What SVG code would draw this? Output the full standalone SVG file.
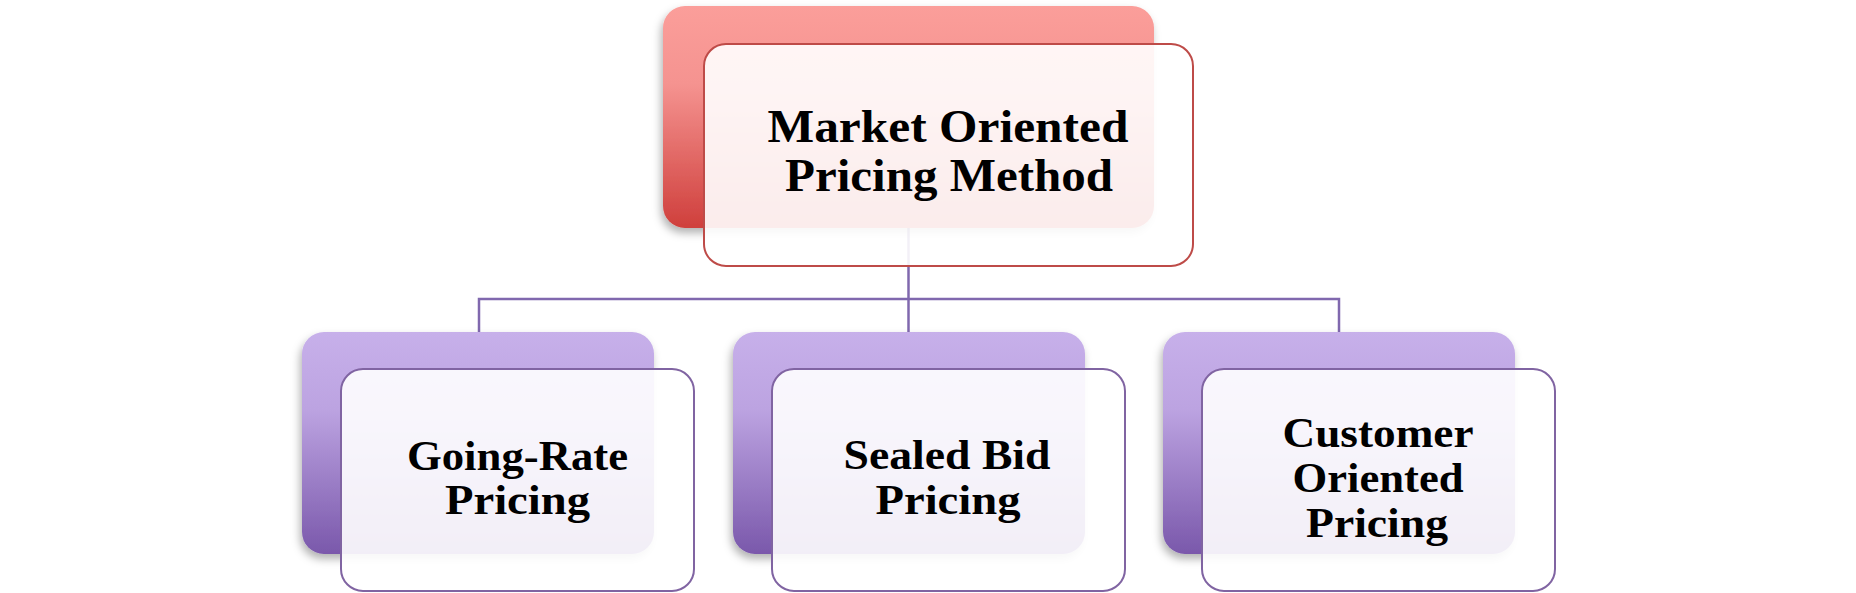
<svg xmlns="http://www.w3.org/2000/svg" width="1856" height="593" viewBox="0 0 1856 593">
<defs>
<linearGradient id="gRed" x1="0" y1="0" x2="0" y2="1">
<stop offset="0" stop-color="#FB9E9A"/>
<stop offset="0.35" stop-color="#F59390"/>
<stop offset="1" stop-color="#CF3F3C"/>
</linearGradient>
<linearGradient id="gPur" x1="0" y1="0" x2="0" y2="1">
<stop offset="0" stop-color="#C7B0EA"/>
<stop offset="0.35" stop-color="#BCA3E1"/>
<stop offset="1" stop-color="#7A58AB"/>
</linearGradient>
<filter id="sh" x="-10%" y="-10%" width="125%" height="130%">
<feDropShadow dx="-2" dy="5" stdDeviation="4" flood-color="#000" flood-opacity="0.3"/>
</filter>
</defs>
<style>
.backR{fill:url(#gRed);filter:url(#sh)}
.backP{fill:url(#gPur);filter:url(#sh)}
.frontR{fill:#fff;fill-opacity:0.9;stroke:#BE4B48;stroke-width:2}
.frontP{fill:#fff;fill-opacity:0.9;stroke:#8064A2;stroke-width:2}
.conn{fill:none;stroke:#8068AE;stroke-width:2.5}
text{font-family:"Liberation Serif","Times New Roman",serif;font-weight:bold;fill:#000;text-anchor:middle}
.t1{font-size:46px}
.t2{font-size:42px}
</style>
<rect width="1856" height="593" fill="#fff"/>
<g id="connectors">
<path class="conn" d="M479 332 V299 H1339 V332"/>
<path class="conn" d="M908.5 228 V332"/>
</g>
<g id="node-market">
<rect class="backR" x="663" y="6" width="491" height="222" rx="22"/>
<rect class="frontR" x="704" y="44" width="489" height="222" rx="22"/>
<text class="t1" x="948" y="142" textLength="361" lengthAdjust="spacingAndGlyphs">Market Oriented</text>
<text class="t1" x="949" y="191" textLength="328" lengthAdjust="spacingAndGlyphs">Pricing Method</text>
</g>
<g id="node-going-rate">
<rect class="backP" x="302" y="332" width="352" height="222" rx="22"/>
<rect class="frontP" x="341" y="369" width="353" height="222" rx="22"/>
<text class="t2" x="517.5" y="470" textLength="221" lengthAdjust="spacingAndGlyphs">Going-Rate</text>
<text class="t2" x="517.5" y="514" textLength="145" lengthAdjust="spacingAndGlyphs">Pricing</text>
</g>
<g id="node-sealed-bid">
<rect class="backP" x="733" y="332" width="352" height="222" rx="22"/>
<rect class="frontP" x="772" y="369" width="353" height="222" rx="22"/>
<text class="t2" x="947" y="469" textLength="207" lengthAdjust="spacingAndGlyphs">Sealed Bid</text>
<text class="t2" x="948" y="514" textLength="145" lengthAdjust="spacingAndGlyphs">Pricing</text>
</g>
<g id="node-customer">
<rect class="backP" x="1163" y="332" width="352" height="222" rx="22"/>
<rect class="frontP" x="1202" y="369" width="353" height="222" rx="22"/>
<text class="t2" x="1378" y="447" textLength="191" lengthAdjust="spacingAndGlyphs">Customer</text>
<text class="t2" x="1378" y="492" textLength="171" lengthAdjust="spacingAndGlyphs">Oriented</text>
<text class="t2" x="1377" y="537" textLength="142" lengthAdjust="spacingAndGlyphs">Pricing</text>
</g>
</svg>
